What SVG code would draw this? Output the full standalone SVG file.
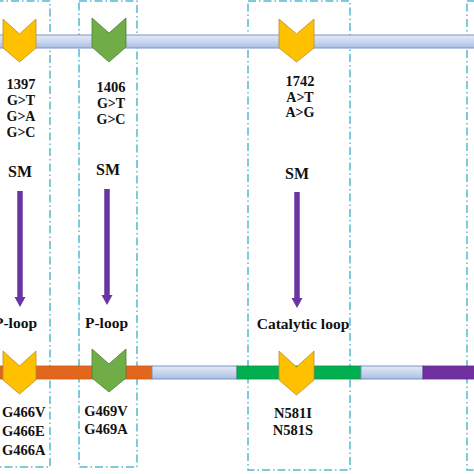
<svg xmlns="http://www.w3.org/2000/svg" width="474" height="474" viewBox="0 0 474 474">
<defs>
<linearGradient id="barGrad" x1="0" y1="0" x2="0" y2="1">
<stop offset="0" stop-color="#e3eaf7"/>
<stop offset="0.5" stop-color="#c9d6ee"/>
<stop offset="1" stop-color="#a9bde3"/>
</linearGradient>
</defs>
<style>
.t{font-family:"Liberation Serif","Times New Roman",serif;font-weight:bold;fill:#111;text-anchor:middle}
.n{font-size:14.5px}
.m{font-size:14px}
.s{font-size:15.5px}
.sm{font-size:16px}
.box{fill:none;stroke:#55b8d6;stroke-width:1.5;stroke-dasharray:8 3 1.5 3}
.bar{fill:url(#barGrad);stroke:#7d93c6;stroke-width:1}
.yel{fill:#ffc000;stroke:#b8902a;stroke-width:0.8}
.grn{fill:#70ad47;stroke:#4f7f32;stroke-width:0.8}
.arr{stroke:#6a35a2;stroke-width:5.5;fill:none}
.ah{fill:#6a35a2}
</style>
<rect width="474" height="474" fill="#ffffff"/>

<g id="boxes">
<rect class="box" x="-20" y="1" width="70" height="466"/>
<rect class="box" x="79" y="1" width="58" height="466"/>
<rect class="box" x="248" y="1" width="102" height="469"/>
<rect class="box" x="467" y="1" width="40" height="469"/>
</g>

<g id="top-bar">
<rect class="bar" x="-2" y="35" width="478" height="13"/>
</g>

<g id="bottom-bar">
<rect x="-2" y="366" width="154" height="13" fill="#e2661c" stroke="#c85a18" stroke-width="0.8"/>
<rect class="bar" x="152" y="366" width="85" height="13"/>
<rect x="237" y="366" width="124" height="13" fill="#00b050" stroke="#0a9040" stroke-width="0.8"/>
<rect class="bar" x="361" y="366" width="62" height="13"/>
<rect x="423" y="366" width="53" height="13" fill="#7030a0" stroke="#5e2a88" stroke-width="0.8"/>
</g>

<g id="node-1397">
<path class="yel" d="M3,19 L19.5,34 L36,19 L36,48 L19.5,62 L3,48 Z"/>
<text class="t n" x="21" y="89">1397</text>
<text class="t m" x="21" y="105">G&gt;T</text>
<text class="t m" x="21" y="121">G&gt;A</text>
<text class="t m" x="21" y="137">G&gt;C</text>
<text class="t sm" x="20" y="177">SM</text>
</g>

<g id="node-1406">
<path class="grn" d="M92,18 L109,33 L126,18 L126,47 L109,62 L92,47 Z"/>
<text class="t n" x="111" y="92">1406</text>
<text class="t m" x="111" y="108">G&gt;T</text>
<text class="t m" x="111" y="124">G&gt;C</text>
<text class="t sm" x="108" y="175">SM</text>
</g>

<g id="node-1742">
<path class="yel" d="M279,19 L296.5,34 L314,19 L314,48 L296.5,62 L279,48 Z"/>
<text class="t n" x="300" y="86">1742</text>
<text class="t m" x="300" y="102">A&gt;T</text>
<text class="t m" x="300" y="117">A&gt;G</text>
<text class="t sm" x="297" y="179">SM</text>
</g>

<g id="node-G466">
<text class="t s" x="15.5" y="328">P-loop</text>
<path class="yel" d="M3,351 L19.5,366 L36,351 L36,380 L19.5,394 L3,380 Z"/>
<text class="t n" x="2" y="417" style="text-anchor:start">G466V</text>
<text class="t n" x="2" y="436" style="text-anchor:start">G466E</text>
<text class="t n" x="2" y="455" style="text-anchor:start">G466A</text>
</g>

<g id="node-G469">
<text class="t s" x="106.5" y="328">P-loop</text>
<path class="grn" d="M92,349 L109,364 L126,349 L126,378 L109,392 L92,378 Z"/>
<text class="t n" x="106" y="416">G469V</text>
<text class="t n" x="106" y="434">G469A</text>
</g>

<g id="node-N581">
<text class="t s" x="303" y="329">Catalytic loop</text>
<path class="yel" d="M279,351 L296.5,367 L314,351 L314,380 L296.5,395 L279,380 Z"/>
<text class="t n" x="293" y="418">N581I</text>
<text class="t n" x="293" y="435">N581S</text>
</g>

<g id="connectors">
<line class="arr" x1="20" y1="191" x2="20" y2="298"/>
<path class="ah" d="M14.5,297 L25.5,297 L20,307 Z"/>
<line class="arr" x1="107" y1="189" x2="107" y2="296"/>
<path class="ah" d="M101.5,295 L112.5,295 L107,305 Z"/>
<line class="arr" x1="297" y1="192" x2="297" y2="299"/>
<path class="ah" d="M291.5,298 L302.5,298 L297,308 Z"/>
</g>
</svg>
